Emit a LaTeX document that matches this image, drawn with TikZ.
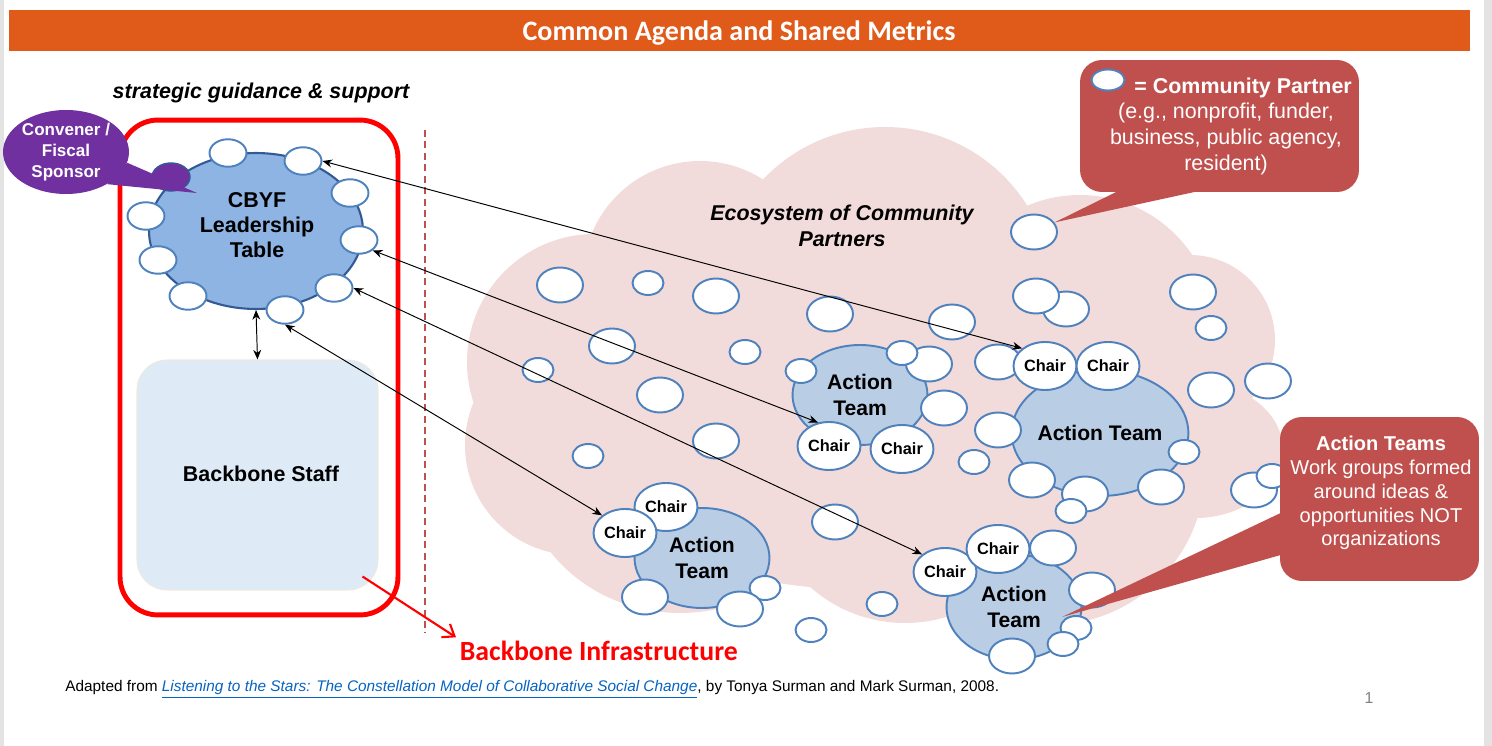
\documentclass[tikz,border=0pt]{standalone}
\usepackage{fontspec}
\setmainfont{Liberation Sans}
\newfontfamily\calibri{Carlito}
\usepackage{xcolor}
\usetikzlibrary{shapes.geometric, arrows.meta, positioning, calc}

\definecolor{headorange}{RGB}{224,90,26}
\definecolor{cloudpink}{RGB}{242,220,219}
\definecolor{callred}{RGB}{192,80,77}
\definecolor{bubblue}{RGB}{79,129,189}
\definecolor{tablefill}{RGB}{142,180,227}
\definecolor{tableedge}{RGB}{52,90,150}
\definecolor{teamfill}{RGB}{185,205,229}
\definecolor{stafffill}{RGB}{222,235,247}
\definecolor{staffedge}{RGB}{238,234,222}
\definecolor{sponsor}{RGB}{112,48,160}
\definecolor{linkblue}{RGB}{5,99,193}

\begin{document}
\begin{tikzpicture}[
    x=0.02cm, y=-0.02cm,
    font=\fontsize{12.2}{14.6}\selectfont\bfseries,
    >={Stealth[length=5.5pt,width=4.5pt]},
    bub/.style={
        ellipse,
        draw=bubblue,
        fill=white,
        line width=1.1pt,
        inner sep=0pt,
        minimum width=0.92cm,
        minimum height=0.7cm
    },
    sbub/.style={bub, minimum width=0.62cm, minimum height=0.48cm},
    cbub/.style={bub, minimum width=0.74cm, minimum height=0.55cm},
    chair/.style={bub, minimum width=1.26cm, minimum height=0.96cm, font=\fontsize{9.3}{10}\selectfont\bfseries},
    team/.style={ellipse, draw=bubblue, fill=teamfill, line width=1.1pt, inner sep=0pt, align=center,
        minimum width=2.7cm, minimum height=2cm, font=\fontsize{12}{14.7}\selectfont\bfseries},
    callout/.style={rectangle, rounded corners=0.44cm, fill=callred, text=white, align=center, inner sep=0pt},
    seta/.style={<->, line width=0.55pt, draw=black}
]
    \useasboundingbox (0,0) rectangle (1492,746);
    \fill[gray!22] (0,0) rectangle (4,746);
    \fill[gray!22] (1484,0) rectangle (1492,746);

    % --- 1. Header ---
    \node[fill=headorange, inner sep=0pt, minimum width=29.22cm, minimum height=0.82cm] (header) at (739.5,30.5) {};
    \node[text=white, font=\calibri\fontsize{16}{18}\selectfont\bfseries] (title) at (739,33) {Common Agenda and Shared Metrics};

    % --- 2. Ecosystem cloud ---
    \fill[cloudpink]
        (595,362) circle (128)
        (700,278) circle (117)
        (885,295) circle (168)
        (1080,330) circle (135)
        (1190,340) circle (85)
        (1195,450) ellipse (88 and 68)
        (1050,470) circle (155)
        (905,480) circle (143)
        (680,465) ellipse (160 and 148)
        (575,445) circle (110)
        (870,400) ellipse (340 and 190);
    \node[font=\fontsize{12.2}{15}\selectfont\bfseries\itshape, align=center] (eco) at (842,226) {Ecosystem of Community\\Partners};

    % --- 3. Backbone infrastructure ---
    \draw[callred, line width=1pt, dash pattern=on 4pt off 2.5pt] (425,130) -- (425,633);
    \node[rectangle, draw=red, line width=2.8pt, rounded corners=0.76cm, minimum width=5.56cm, minimum height=9.9cm] (frame) at (259,367.5) {};
    \node[font=\fontsize{12.2}{14.6}\selectfont\bfseries\itshape] (guide) at (261,93) {strategic guidance \& support};

    \node[rectangle, rounded corners=0.6cm, fill=stafffill, draw=staffedge, line width=0.6pt,
        minimum width=4.82cm, minimum height=4.6cm] (staff) at (257.5,475) {};
    \node (stafftxt) at (261,474) {Backbone Staff};

    \node[ellipse, draw=tableedge, fill=tablefill, line width=1.2pt, inner sep=0pt, align=center,
        minimum width=4.28cm, minimum height=3.12cm] (cbyf) at (256,231) {};
    \node[align=center, font=\fontsize{12.2}{14.4}\selectfont\bfseries] (cbyftxt) at (257,225) {CBYF\\Leadership\\Table};
    \foreach \x/\y [count=\i] in {228/153, 303/161, 350/193, 359/240, 334/288, 285/310, 188/296, 158/260, 146/216}
        \node[cbub] (cb\i) at (\x,\y) {};

    % convener callout
    \node[ellipse, fill=sponsor, inner sep=0pt, minimum width=2.52cm, minimum height=1.68cm, align=center, text=white,
        font=\fontsize{9.7}{11.9}\selectfont\bfseries] (conv) at (66,152) {Convener /\\Fiscal\\Sponsor};
    \coordinate (convtip) at (197,193);
    \node[ellipse, fill=sponsor, draw=tableedge, line width=0.8pt, inner sep=0pt, minimum width=0.76cm, minimum height=0.56cm] (convbub) at (171,177) {};
    \fill[sponsor] (conv.-10) -- (convtip) -- (conv.-38) -- cycle;

    \node[text=red, anchor=west, inner sep=2pt, font=\calibri\fontsize{15.8}{18}\selectfont\bfseries] (infra) at (456,651) {Backbone Infrastructure};

    % --- 4. Community partners ---
    \foreach \x/\y [count=\i] in {560/285, 716/296, 830/314, 952/322, 612/346, 660/395, 716/441, 835/522,
        1066/309, 1036/296, 1193/292, 1211/390, 1268/381, 1254/490}
        \node[bub] (pb\i) at (\x,\y) {};
    \foreach \x/\y [count=\i] in {648/283, 745/352, 538/370, 588/456, 882/604, 811/630, 1211/328, 1272/476}
        \node[sbub] (ps\i) at (\x,\y) {};
    \node[bub] (partner) at (1034,232) {};

    % --- 5. Action teams ---
    \node[team] (at1) at (860,395) {Action\\Team};
    \node[sbub] (at1b1) at (801,371) {};
    \node[bub] (at1b2) at (929,364) {};
    \node[sbub] (at1b3) at (902,353) {};
    \node[bub] (at1b4) at (944,408) {};
    \node[chair] (at1c1) at (829,446) {Chair};
    \node[chair] (at1c2) at (902,449) {Chair};

    \node[team, minimum width=3.36cm, minimum height=2.52cm] (at2) at (1100,433) {Action Team};
    \node[bub] (at2b1) at (998,362) {};
    \node[bub] (at2b2) at (998,430) {};
    \node[sbub] (at2b3) at (974,462) {};
    \node[bub] (at2b4) at (1032,480) {};
    \node[bub] (at2b5) at (1085,494) {};
    \node[sbub] (at2b6) at (1071,511) {};
    \node[bub] (at2b7) at (1161,487) {};
    \node[sbub] (at2b8) at (1184,452) {};
    \node[chair] (at2c1) at (1045,366) {Chair};
    \node[chair] (at2c2) at (1108,366) {Chair};

    \node[team] (at3) at (702,558) {Action\\Team};
    \node[bub] (at3b1) at (645,597) {};
    \node[sbub] (at3b2) at (765,588) {};
    \node[bub] (at3b3) at (740,609) {};
    \node[chair] (at3c1) at (666,507) {Chair};
    \node[chair] (at3c2) at (625,533) {Chair};

    \node[team, minimum height=2.1cm] (at4) at (1014,607) {Action\\Team};
    \node[bub] (at4b1) at (1053,548) {};
    \node[bub] (at4b2) at (1092,590) {};
    \node[sbub] (at4b3) at (1076,628) {};
    \node[sbub] (at4b4) at (1063,644) {};
    \node[bub] (at4b5) at (1012,656) {};
    \node[chair] (at4c1) at (945,572) {Chair};
    \node[chair] (at4c2) at (998,549) {Chair};

    % --- Connections ---
    \draw[seta] (cb2.east) -- (at2c1.north west);
    \draw[seta] (cb4.south east) -- (at1c1.115);
    \draw[seta] (cb5.east) -- (at4c1.north west);
    \draw[seta] (cb6.south) -- (at3c2.north west);
    \draw[seta] (cbyf.south) -- (staff.north);
    \draw[->, red, line width=1.2pt, >={Straight Barb[length=6pt,width=9pt]}] ($(staff.south east)+(-16,-14)$) -- (infra.north west);

    % --- 6. Notes ---
    \node[callout, minimum width=5.58cm, minimum height=2.64cm] (cpnote) at (1219.5,126) {};
    \fill[callred] ($(cpnote.south)+(-102,-1)$) -- (partner.25) -- ($(cpnote.south)+(-22,-1)$) -- cycle;
    \node[text=white, align=center, font=\fontsize{12.2}{14.6}\selectfont\mdseries] (cptxt) at (1226,126)
        {\hspace*{1.6em}\textbf{= Community Partner}\\(e.g., nonprofit, funder,\\business, public agency,\\resident)};
    \node[bub, minimum width=0.66cm, minimum height=0.42cm] (key) at (1108,80) {};

    \node[callout, minimum width=3.98cm, minimum height=3.28cm] (atnote) at (1379.5,499) {};
    \coordinate (attip) at (1062,617);
    \fill[callred] ($(atnote.west)+(1,14)$) -- (attip) -- ($(atnote.west)+(1,56)$) -- cycle;
    \node[text=white, align=center, font=\fontsize{11.4}{13.6}\selectfont\mdseries] (attxt) at (1381,493)
        {\textbf{Action Teams}\\Work groups formed\\around ideas \&\\opportunities NOT\\organizations};

    % --- 7. Source ---
    \node[anchor=west, inner sep=0pt, font=\fontsize{8.75}{10}\selectfont\mdseries] (credit) at (65,689)
        {Adapted from \textcolor{linkblue}{\itshape\underline{Listening to the Stars: The Constellation Model of Collaborative Social Change}}, by Tonya Surman and Mark Surman, 2008.};
    \node[text=gray, font=\fontsize{9}{10}\selectfont\mdseries] (pagenum) at (1369,698) {1};
\end{tikzpicture}
\end{document}
